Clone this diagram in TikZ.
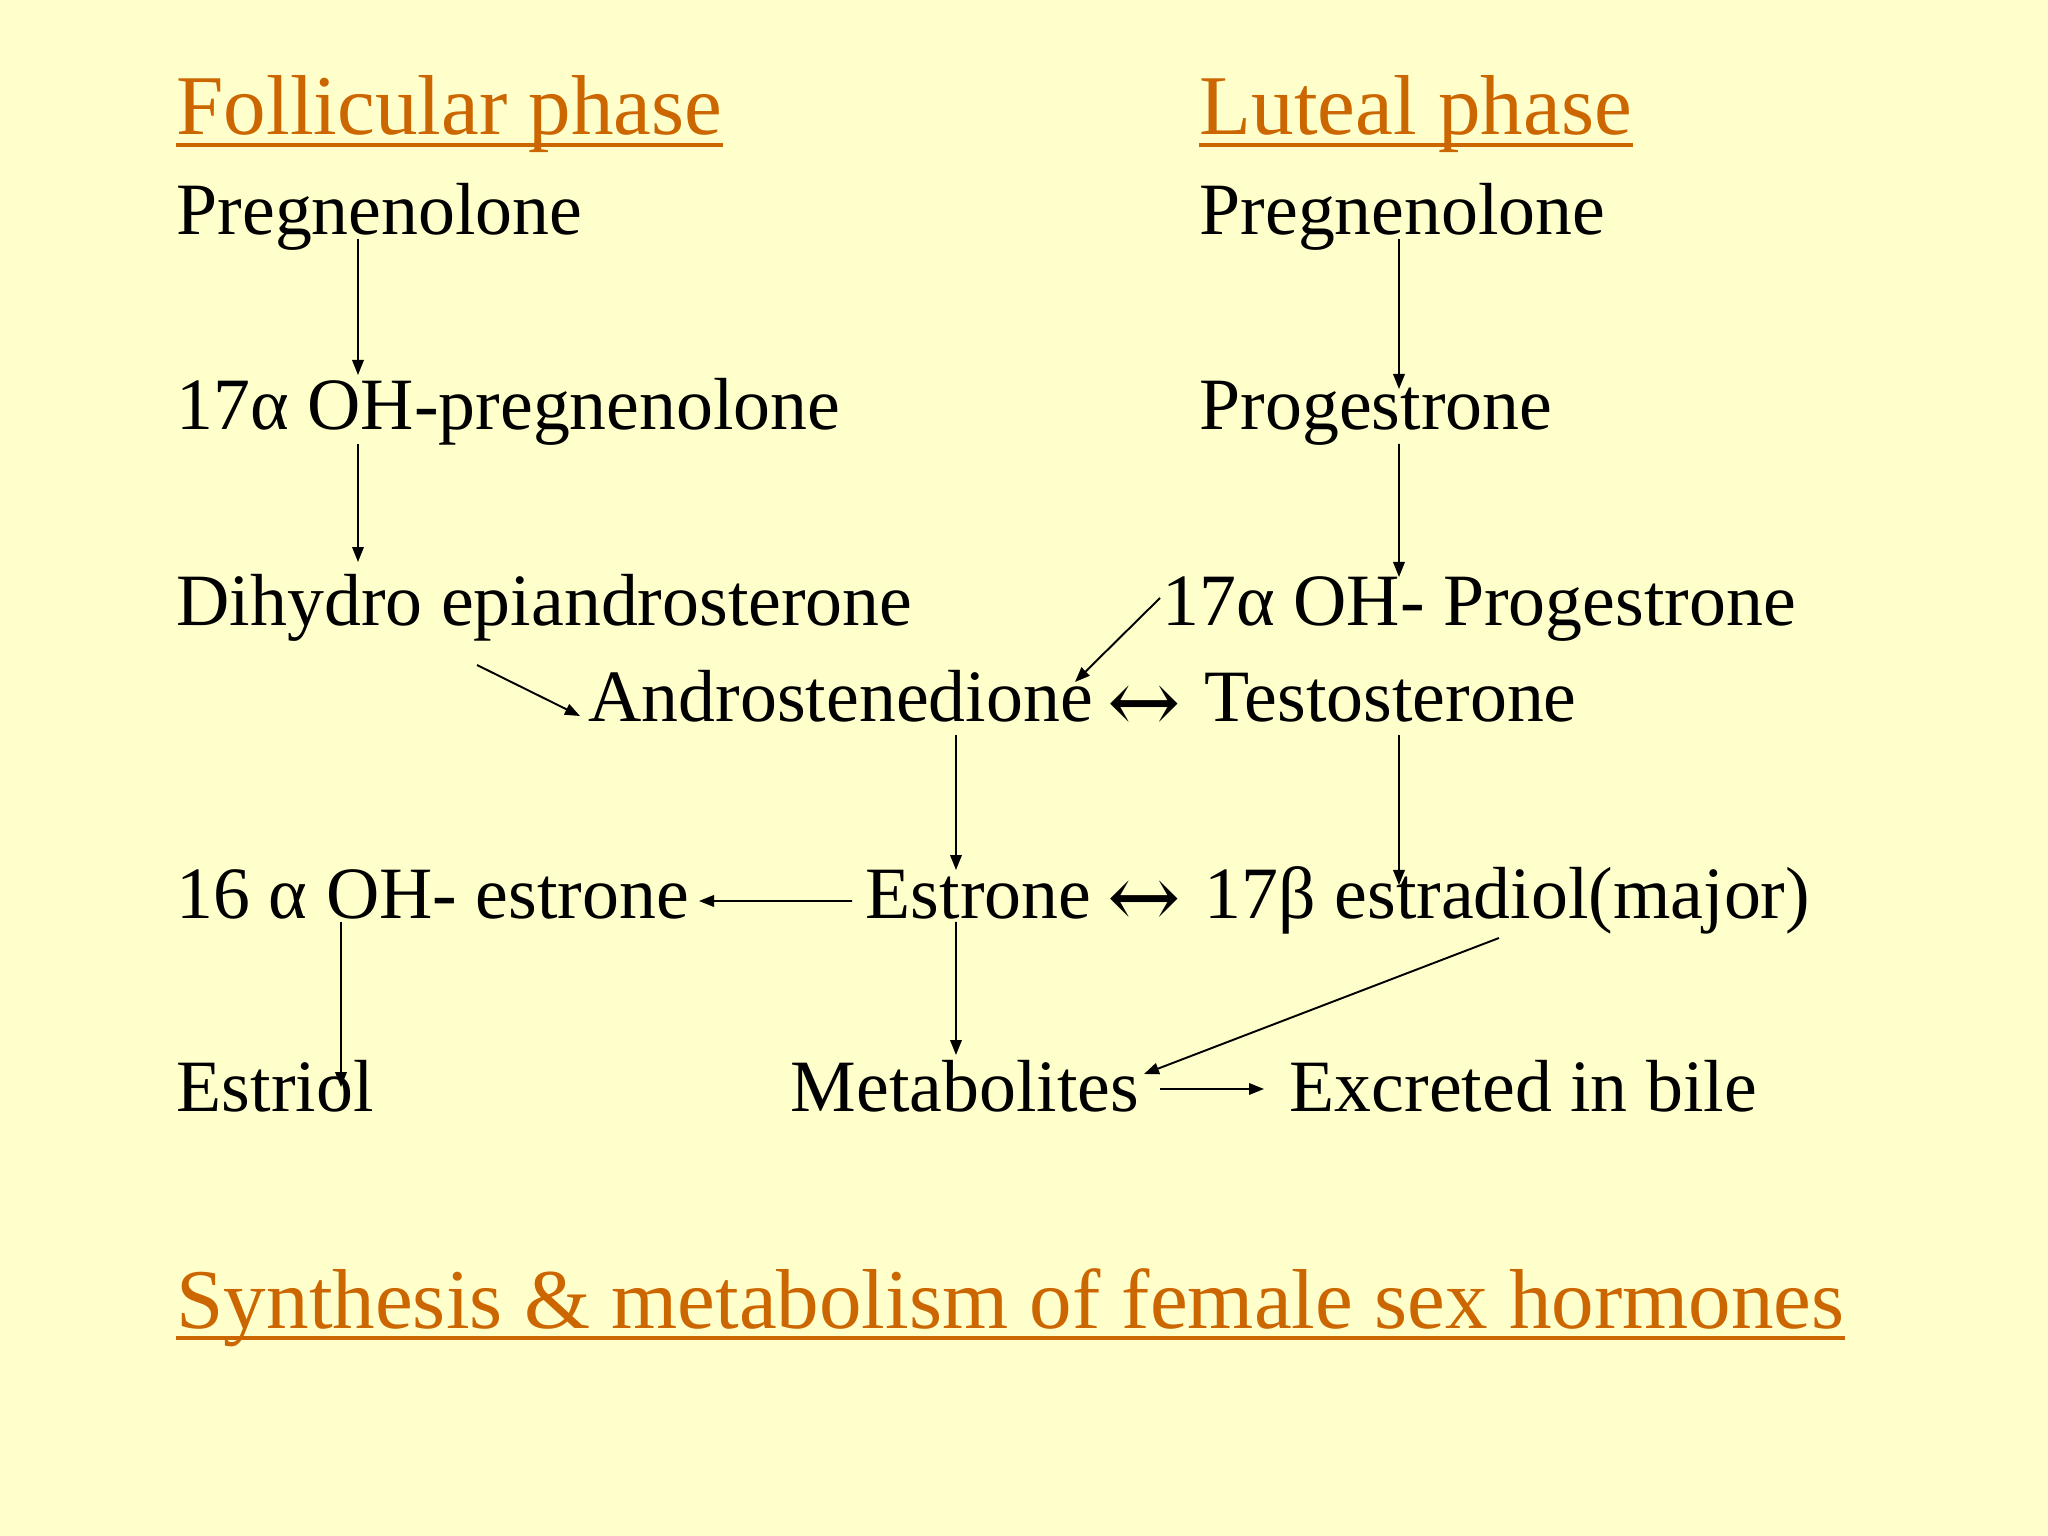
\documentclass[tikz,border=0pt]{standalone}
\usepackage{fontspec}
\setmainfont{Liberation Serif}
\newfontfamily\arrowfont{DejaVu Serif}
\usetikzlibrary{positioning,arrows.meta}

\definecolor{slideyellow}{HTML}{FFFFCC}
\definecolor{phaseorange}{HTML}{CC6600}

\begin{document}
\begin{tikzpicture}[
    chem/.style={inner sep=0pt, anchor=base west, font=\fontsize{21}{25}\selectfont},
    swap/.style={inner sep=0pt, anchor=base west, yshift=-1mm, font=\arrowfont\fontsize{25}{25}\selectfont},
    heading/.style={inner sep=0pt, anchor=base west, text=phaseorange, font=\fontsize{24.2}{29}\selectfont},
    flow/.style={-{Triangle[length=1.5mm, width=1.15mm]}, line width=0.55pt},
    uline/.style={phaseorange, line width=1pt}]

% Slide background
\fill[slideyellow] (0,0) rectangle (20.48,-15.36);

% Headings
\node[heading] (folTitle) at (1.76,-1.35) {Follicular phase};
\node[heading] (lutTitle) at (11.99,-1.35) {Luteal phase};

% Follicular column
\node[below=1cm of folTitle.base west, chem] (pregL) {Pregnenolone};
\node[below=1.95cm of pregL.base west, chem] (ohpreg) {17α OH-pregnenolone};
\node[below=1.96cm of ohpreg.base west, chem] (dhea) {Dihydro epiandrosterone};

% Luteal column
\node[below=1cm of lutTitle.base west, chem] (pregR) {Pregnenolone};
\node[below=1.95cm of pregR.base west, chem] (prog) {Progestrone};
\node[below left=1.96cm and 0.37cm of prog.base west, chem] (ohprog) {17α OH- Progestrone};

% Middle rows
\node[chem] (andro) at (5.88,-7.22) {Androstenedione};
\node[swap] (swapA) at (11.07,-7.22) {↔};
\node[chem] (testo) at (12.04,-7.22) {Testosterone};

\node[below=2.92cm of dhea.base west, chem] (estroOH) {16 α OH- estrone};
\node[chem] (estrone) at (8.65,-9.18) {Estrone};
\node[swap] (swapB) at (11.07,-9.18) {↔};
\node[chem] (estradiol) at (12.04,-9.18) {17β estradiol(major)};

\node[below=1.93cm of estroOH.base west, chem] (estriol) {Estriol};
\node[chem] (metab) at (7.90,-11.11) {Metabolites};
\node[chem] (bile) at (12.89,-11.11) {Excreted in bile};

\node[below=2.17cm of estriol.base west, heading] (synTitle) {Synthesis \& metabolism of female sex hormones};

% Underlines
\foreach \t in {folTitle,lutTitle,synTitle}
  \draw[uline] ([yshift=-1mm]\t.base west) -- ([yshift=-1mm]\t.base east);

% Connections
\draw[flow] ([xshift=1.82cm,yshift=-0.04cm]pregL.base west) -- ([xshift=1.82cm,yshift=0.55cm]ohpreg.base west);
\draw[flow] ([xshift=1.82cm,yshift=-0.14cm]ohpreg.base west) -- ([xshift=1.82cm,yshift=0.64cm]dhea.base west);
\draw[flow] ([xshift=2cm,yshift=-0.04cm]pregR.base west) -- ([xshift=2cm,yshift=0.41cm]prog.base west);
\draw[flow] ([xshift=2cm,yshift=-0.14cm]prog.base west) -- ([xshift=2.37cm,yshift=0.49cm]ohprog.base west);
\draw[flow] ([xshift=-0.02cm,yshift=0.28cm]ohprog.base west) -- ([xshift=4.87cm,yshift=0.4cm]andro.base west);
\draw[flow] ([xshift=3.01cm,yshift=-0.39cm]dhea.base west) -- ([xshift=-0.08cm,yshift=0.06cm]andro.base west);
\draw[flow] ([xshift=3.68cm,yshift=-0.13cm]andro.base west) -- ([xshift=0.91cm,yshift=0.48cm]estrone.base west);
\draw[flow] ([xshift=1.95cm,yshift=-0.13cm]testo.base west) -- ([xshift=1.95cm,yshift=0.33cm]estradiol.base west);
\draw[flow] ([xshift=-0.13cm,yshift=0.17cm]estrone.base west) -- ([xshift=5.23cm,yshift=0.17cm]estroOH.base west);
\draw[flow] ([xshift=1.65cm,yshift=-0.04cm]estroOH.base west) -- ([xshift=1.65cm,yshift=0.24cm]estriol.base west);
\draw[flow] ([xshift=0.91cm,yshift=-0.04cm]estrone.base west) -- ([xshift=1.66cm,yshift=0.56cm]metab.base west);
\draw[flow] ([xshift=2.95cm,yshift=-0.2cm]estradiol.base west) -- ([xshift=3.54cm,yshift=0.37cm]metab.base west);
\draw[flow] ([xshift=3.7cm,yshift=0.22cm]metab.base west) -- ([xshift=-0.25cm,yshift=0.22cm]bile.base west);

\end{tikzpicture}
\end{document}
